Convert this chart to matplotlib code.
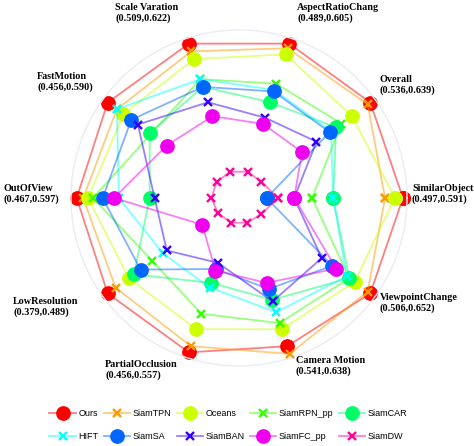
import numpy as np
import matplotlib
matplotlib.use('Agg')
import matplotlib.pyplot as plt
from matplotlib.colors import to_rgb

# attributes in counter-clockwise order starting at 3 o'clock
attributes = ['SimilarObject', 'Overall', 'AspectRatioChang', 'Scale Varation', 'FastMotion',
              'OutOfView', 'LowResolution', 'PartialOcclusion', 'Camera Motion', 'ViewpointChange']
ranges = ['(0.497,0.591)', '(0.536,0.639)', '(0.489,0.605)', '(0.509,0.622)', '(0.456,0.590)',
          '(0.467,0.597)', '(0.379,0.489)', '(0.456,0.557)', '(0.541,0.638)', '(0.506,0.652)']

trackers = ['Ours', 'SiamTPN', 'Oceans', 'SiamRPN_pp', 'SiamCAR',
            'HIFT', 'SiamSA', 'SiamBAN', 'SiamFC_pp', 'SiamDW']
colors = ['#ff0000', '#ff9900', '#ccff00', '#33ff00', '#00ff66',
          '#00ffff', '#0066ff', '#3300ff', '#ee00ee', '#ff0099']

# normalised radius per attribute (same order as attributes)
ours       = [1.01, 1.00, 1.00, 1.00, 1.00, 1.00, 1.00, 1.00, 0.96, 1.00]
siamtpn    = [0.90, 0.98, 0.97, 0.95, 0.93, 0.96, 0.94, 0.96, 1.01, 0.98]
oceans     = [0.96, 0.86, 0.93, 0.90, 0.88, 0.93, 0.84, 0.85, 0.85, 0.88]
siamrpn_pp = [0.45, 0.78, 0.74, 0.77, 0.67, 0.90, 0.66, 0.75, 0.81, 0.84]
siamcar    = [0.58, 0.74, 0.62, 0.72, 0.68, 0.55, 0.80, 0.55, 0.66, 0.84]
hift       = [0.58, 0.70, 0.70, 0.77, 0.93, 0.74, 0.58, 0.58, 0.74, 0.82]
siamsa     = [0.17, 0.69, 0.69, 0.72, 0.82, 0.84, 0.75, 0.46, 0.59, 0.71]
siamban    = [0.34, 0.59, 0.52, 0.62, 0.77, 0.52, 0.55, 0.42, 0.67, 0.63]
siamfc_pp  = [0.34, 0.48, 0.48, 0.53, 0.55, 0.77, 0.28, 0.47, 0.55, 0.74]
siamdw     = [0.24, 0.17, 0.17, 0.17, 0.17, 0.17, 0.16, 0.16, 0.16, 0.17]

series = [ours, siamtpn, oceans, siamrpn_pp, siamcar, hift, siamsa, siamban, siamfc_pp, siamdw]

# label anchor (left edge, block centre) in pixels of the 474x446 image
label_px = [(412, 194), (380, 85), (297, 13), (115, 13), (37, 82),
            (3, 194), (13, 307), (105, 370), (296, 366), (380, 303)]

W, H = 474, 446
fig = plt.figure(figsize=(W / 100, H / 100), dpi=100)
ax = fig.add_axes([71 / W, 80 / H, 336 / W, 336 / H], projection='polar')

angles = np.deg2rad(np.arange(len(attributes)) * 36.0)
theta = np.append(angles, angles[0])

handles = []
for i, (name, vals) in enumerate(zip(trackers, series)):
    rgb = to_rgb(colors[i])
    r = np.append(vals, vals[0])
    if i % 2 == 0:
        mk = dict(marker='o', markersize=9.6)
    else:
        mk = dict(marker='x', markersize=5.5, markeredgewidth=1.7)
    h, = ax.plot(theta, r, color=rgb + (0.5,), lw=1.3, mfc=rgb, mec=rgb,
                 label=name, clip_on=False, zorder=2 + i, **mk)
    handles.append(h)

ax.set_ylim(0, 1.035)
ax.set_xticks([])
ax.set_yticks([])
ax.grid(False)
ax.spines['polar'].set_color('#ebebf3')
ax.spines['polar'].set_linewidth(1.0)

for name, rng, (px, py) in zip(attributes, ranges, label_px):
    fig.text(px / W, 1 - py / H, name + '\n' + rng, ha='left', va='center',
             family='Liberation Serif', fontweight='bold', fontsize=7.3, linespacing=1.25)

# reorder so the legend fills row by row
order = [0, 5, 1, 6, 2, 7, 3, 8, 4, 9]
fig.legend([handles[k] for k in order], [trackers[k] for k in order],
           ncol=5, loc='center', bbox_to_anchor=(0.482, 0.047), frameon=False,
           prop={'family': 'Liberation Sans', 'size': 6.5},
           handlelength=2.9, handletextpad=0.3, columnspacing=0.6, labelspacing=1.5)

fig.savefig('out.png', dpi=100)
